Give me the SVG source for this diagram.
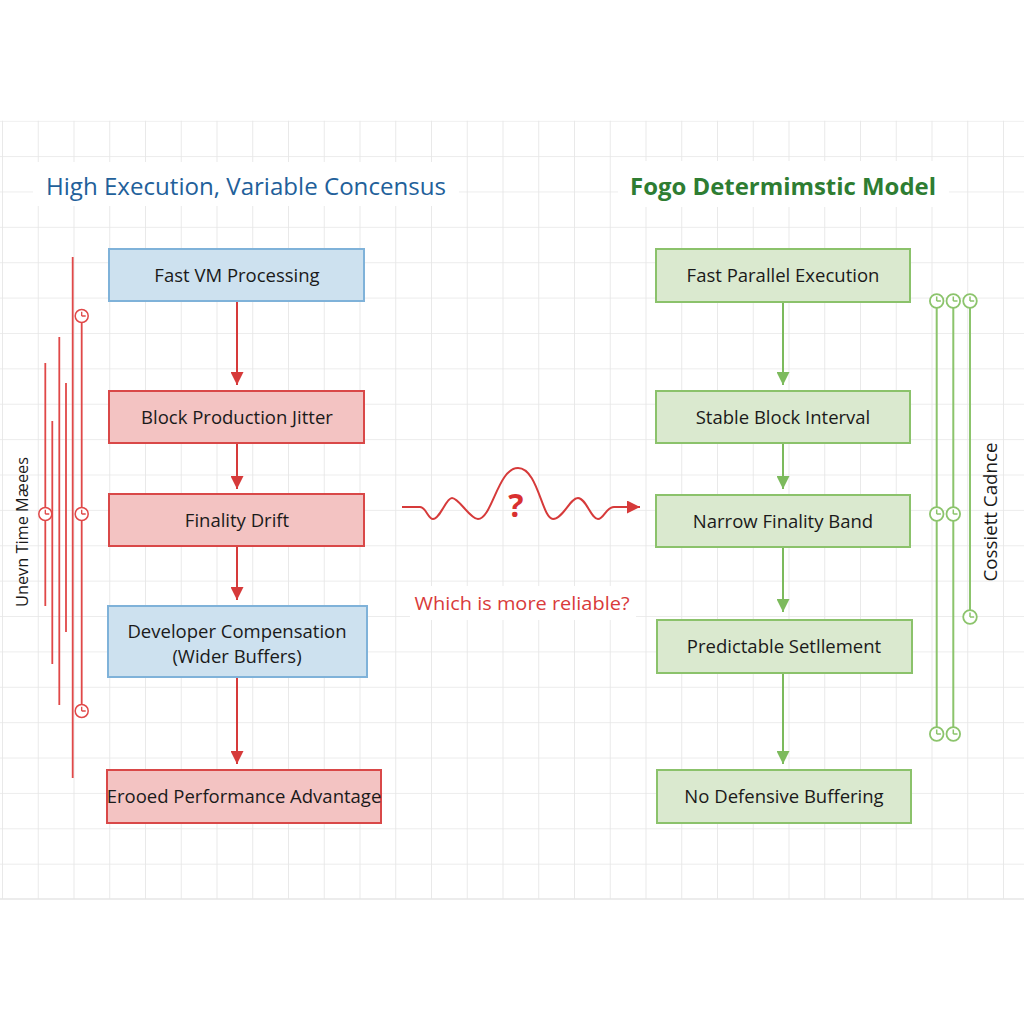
<svg xmlns="http://www.w3.org/2000/svg" width="1024" height="1024" viewBox="0 0 1024 1024">
<defs>
<style>
.grid{stroke:#e6e6e6;stroke-width:1.7;fill:none}
.t{font-family:"Open Sans","Noto Sans","Liberation Sans",sans-serif;font-size:18.5px;fill:#1a1a1a;text-anchor:middle}
.blue{fill:#cde1ef;stroke:#7fb2d9;stroke-width:2}
.red{fill:#f3c3c2;stroke:#d94848;stroke-width:2}
.green{fill:#dae9cf;stroke:#8bc26b;stroke-width:2}
.ra{stroke:#d63a3a;stroke-width:2;fill:none}
.ga{stroke:#7cba5c;stroke-width:2;fill:none}
.rl{stroke:#e04848;stroke-width:1.8;fill:none}
.gl{stroke:#8cc46c;stroke-width:2;fill:none}
</style>
<pattern id="gp" patternUnits="userSpaceOnUse" x="2" y="120.7" width="35.75" height="35.38">
<path d="M0 0H35.75M0 0V35.38" class="grid"/>
</pattern>
<marker id="mr" viewBox="0 0 10 10" refX="10" refY="5" markerWidth="6.5" markerHeight="6.5" orient="auto" markerUnits="strokeWidth">
<path d="M0 0L10 5L0 10z" fill="#d63a3a"/>
</marker>
<marker id="mg" viewBox="0 0 10 10" refX="10" refY="5" markerWidth="6.5" markerHeight="6.5" orient="auto" markerUnits="strokeWidth">
<path d="M0 0L10 5L0 10z" fill="#7cba5c"/>
</marker>
<g id="rc"><circle r="6.5" fill="#fff" stroke="#e04848" stroke-width="1.5"/><path d="M0 0V-4.2M0 0H4" stroke="#e04848" stroke-width="1.3" fill="none"/></g>
<g id="gc"><circle r="6.8" fill="#fff" stroke="#8cc46c" stroke-width="1.8"/><path d="M0 0V-4.4M0 0H4.2" stroke="#8cc46c" stroke-width="1.5" fill="none"/></g>
</defs>
<rect width="1024" height="1024" fill="#fff"/>
<g id="grid">
<rect x="0" y="120.7" width="1024" height="778.3" fill="url(#gp)"/>
<path d="M0 899H1024" class="grid"/>
</g>
<g id="titles">
<rect x="33" y="162" width="426" height="44" fill="#fff"/>
<rect x="618" y="161" width="331" height="46" fill="#fff"/>
<text x="246" y="195" font-family="Open Sans,Noto Sans,Liberation Sans,sans-serif" font-size="24" fill="#22609a" text-anchor="middle" textLength="400" lengthAdjust="spacingAndGlyphs">High Execution, Variable Concensus</text>
<text x="783" y="195" font-family="Open Sans,Noto Sans,Liberation Sans,sans-serif" font-size="24" font-weight="bold" fill="#2e7d32" text-anchor="middle" textLength="306" lengthAdjust="spacingAndGlyphs">Fogo Determimstic Model</text>
</g>
<g id="connectors">
<path class="ra" d="M237 301V385" marker-end="url(#mr)"/>
<path class="ra" d="M237 443V489" marker-end="url(#mr)"/>
<path class="ra" d="M237 546V600" marker-end="url(#mr)"/>
<path class="ra" d="M237 677V764" marker-end="url(#mr)"/>
<path class="ga" d="M783 302V385" marker-end="url(#mg)"/>
<path class="ga" d="M783 443V489" marker-end="url(#mg)"/>
<path class="ga" d="M783 547V612" marker-end="url(#mg)"/>
<path class="ga" d="M783 673V764" marker-end="url(#mg)"/>
<path class="ra" d="M402 507H420C426 507 428 519 433 519C440 519 446 498 452 498C459 498 470 519 478 519C492 519 498 468 518 468C538 468 542 519 553 519C563 519 570 498 578 498C586 498 591 519 598 519C604 519 606 507 614 507H640" marker-end="url(#mr)"/>
</g>
<g id="left-nodes">
<g id="n-fastvm"><rect class="blue" x="109" y="249" width="255" height="52"/><text class="t" x="237" y="282">Fast VM Processing</text></g>
<g id="n-jitter"><rect class="red" x="109" y="391" width="255" height="52"/><text class="t" x="237" y="424">Block Production Jitter</text></g>
<g id="n-drift"><rect class="red" x="109" y="494" width="255" height="52"/><text class="t" x="237" y="527">Finality Drift</text></g>
<g id="n-devcomp"><rect class="blue" x="108" y="606" width="259" height="71"/><text class="t" x="237" y="638">Developer Compensation</text><text class="t" x="237" y="663">(Wider Buffers)</text></g>
<g id="n-eroded"><rect class="red" x="107" y="770" width="274" height="53"/><text class="t" x="244" y="803">Erooed Performance Advantage</text></g>
</g>
<g id="right-nodes">
<g id="n-parallel"><rect class="green" x="656" y="249" width="254" height="53"/><text class="t" x="783" y="282">Fast Parallel Execution</text></g>
<g id="n-stable"><rect class="green" x="656" y="391" width="254" height="52"/><text class="t" x="783" y="424">Stable Block Interval</text></g>
<g id="n-narrow"><rect class="green" x="656" y="495" width="254" height="52"/><text class="t" x="783" y="528">Narrow Finality Band</text></g>
<g id="n-settle"><rect class="green" x="657" y="620" width="255" height="53"/><text class="t" x="784" y="653">Predictable Setllement</text></g>
<g id="n-nodef"><rect class="green" x="657" y="770" width="254" height="53"/><text class="t" x="784" y="803">No Defensive Buffering</text></g>
</g>
<g id="left-timeline">
<path class="rl" d="M72.7 257V778M81.7 316V711M59.3 337V705M66 383V632M45.3 363V606M52.3 421V664"/>
<use href="#rc" x="81.7" y="316"/>
<use href="#rc" x="81.7" y="514"/>
<use href="#rc" x="81.7" y="711"/>
<use href="#rc" x="45.3" y="514"/>
<text transform="translate(28 532) rotate(-90)" font-family="Open Sans,Noto Sans,Liberation Sans,sans-serif" font-size="16.5" fill="#1a1a1a" text-anchor="middle" textLength="150" lengthAdjust="spacingAndGlyphs">Unevn Time Mæees</text>
</g>
<g id="right-timeline">
<path class="gl" d="M936.7 301V734M953.3 301V734M970 301V617"/>
<use href="#gc" x="936.7" y="301"/>
<use href="#gc" x="953.3" y="301"/>
<use href="#gc" x="970" y="301"/>
<use href="#gc" x="936.7" y="514"/>
<use href="#gc" x="953.3" y="514"/>
<use href="#gc" x="970" y="617"/>
<use href="#gc" x="936.7" y="734"/>
<use href="#gc" x="953.3" y="734"/>
<text transform="translate(997 512) rotate(-90)" font-family="Open Sans,Noto Sans,Liberation Sans,sans-serif" font-size="17.5" fill="#1a1a1a" text-anchor="middle" textLength="139" lengthAdjust="spacingAndGlyphs">Cossiett Cadnce</text>
</g>
<g id="question">
<text x="516" y="517" font-family="Open Sans,Noto Sans,Liberation Sans,sans-serif" font-size="32" font-weight="bold" fill="#d93030" text-anchor="middle">?</text>
<rect x="410" y="586" width="226" height="34" fill="#fff"/>
<text x="522" y="610" font-family="Open Sans,Noto Sans,Liberation Sans,sans-serif" font-size="19" fill="#d93a3a" text-anchor="middle" textLength="215" lengthAdjust="spacingAndGlyphs">Which is more reliable?</text>
</g>
</svg>
